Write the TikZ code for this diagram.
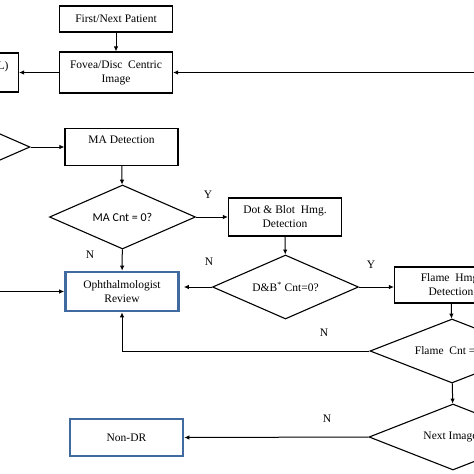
\documentclass[tikz,border=0pt]{standalone}
\usepackage{fontspec}
\setmainfont{Liberation Serif}
\newfontfamily\calibrifont{Carlito}
\usetikzlibrary{arrows.meta,shapes.geometric,positioning}
\definecolor{reviewblue}{RGB}{65,106,160}
\tikzset{
    grading flow/.style = {>={Latex[length=5pt,width=4.5pt]}, x=1pt, y=-1pt},
    line/.style         = {line width=1pt},
    block/.style        = {draw, line width=1.1pt, fill=white, align=center,
                           minimum width=113pt, minimum height=38pt,
                           font=\fontsize{11.5}{14}\selectfont},
    review/.style       = {block, draw=reviewblue, line width=2.6pt},
    decision/.style     = {diamond, draw, line width=1.1pt, fill=white,
                           aspect=2.3, inner sep=1pt,
                           minimum width=146pt, minimum height=64pt,
                           font=\fontsize{11.5}{14}\selectfont},
    answer/.style       = {font=\fontsize{11.5}{14}\selectfont}
}

\begin{document}
\begin{tikzpicture}[grading flow]
\useasboundingbox (0,0) rectangle (474,474);

% ================= Image intake =================
\node[block, minimum height=26pt] (patient) at (116,19) {First/Next Patient};
\node[block, minimum height=41pt] (fovea) at (116,72.5) {Fovea/Disc~ Centric\\Image};
\node[block, minimum height=39pt, anchor=east, text width=93pt,
      align=right, inner xsep=10pt] (quality) at (19,72.5) {L)\\~};
\coordinate (loopback) at (480,72.5);

\draw[->, line] (patient) -- (fovea);
\draw[->, line] (fovea) -- (quality);
\draw[->, line] (loopback) -- (fovea);

% ================= Lesion detection =================
\node[decision] (screen) at (-43,147) {};
\node[block, minimum height=37pt] (ma) at (121.5,147) {MA Detection\\~};
\node[decision, font=\calibrifont\fontsize{12}{14}\selectfont] (madec) at (122.5,217) {MA Cnt = 0?};
\node[block] (dotblot) at (285,217) {Dot \& Blot~ Hmg.\\Detection};
\node[decision] (dbdec) at (285.5,287) {D\&B\textsuperscript{*} Cnt=0?};
\node[block, minimum height=36pt] (flame) at (451,285) {Flame~ Hmg.\\Detection};
\node[decision, minimum width=164pt] (flamedec) at (452,351) {Flame~ Cnt = 0?};
\node[decision, minimum width=168pt, minimum height=66pt] (nextdec) at (453,437) {Next Image?};

% ================= Outcomes =================
\node[review, minimum height=39pt] (ophth) at (122,291.5) {Ophthalmologist\\Review};
\node[review, minimum height=37pt] (nondr) at (126.5,437.5) {Non-DR};
\coordinate (referin) at (-5,291.5);

% ================= Connectors =================
\draw[->, line] (screen.east) -- (ma.west);
\draw[->, line] (ma) -- (madec);
\draw[->, line] (madec.east) -- (dotblot.west);
\node[answer] at (208,195) {Y};
\draw[->, line] (madec) -- (ophth);
\node[answer] at (90,255) {N};
\draw[->, line] (dotblot) -- (dbdec);
\draw[->, line, shorten >=4pt] (dbdec.west) -- (dbdec.west -| ophth.east);
\node[answer] at (209,262) {N};
\draw[->, line] (dbdec.east) -- (dbdec.east -| flame.west);
\node[answer] at (371,265) {Y};
\draw[->, line] (referin) -- (ophth.west);
\draw[->, line] (flame) -- (flamedec);
\draw[->, line] (flamedec.west) -| (ophth.south);
\node[answer] at (324,333) {N};
\draw[->, line] (flamedec) -- (nextdec);
\draw[->, line] (nextdec.west) -- (nondr.east);
\node[answer] at (327,419) {N};

\end{tikzpicture}
\end{document}
